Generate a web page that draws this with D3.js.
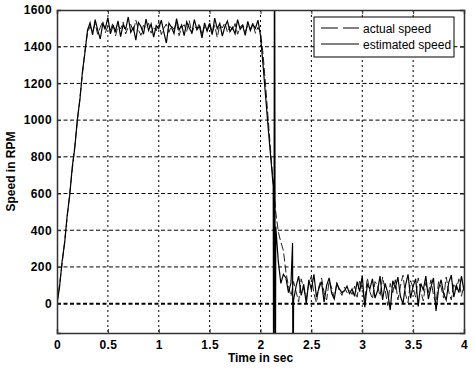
<!DOCTYPE html>
<html>
<head>
<meta charset="utf-8">
<script src="https://cdn.jsdelivr.net/npm/d3@7"></script>
<style>
  body { margin: 0; background: #fff; }
  svg { display: block; font-family: "Liberation Sans", Arial, sans-serif; }
  .tick-label { font-size: 12px; font-weight: bold; fill: #000; letter-spacing: 0.4px; }
  .axis-title { font-size: 12px; font-weight: bold; fill: #000; }
  .legend-text { font-size: 12px; fill: #000; }
</style>
</head>
<body>
<div id="chart"></div>
<script>
// sample times (s), shared by both series
const timeSec = [
  0, 0.025, 0.05, 0.075, 0.1, 0.125, 0.15, 0.175, 0.2, 0.225, 0.25, 0.275, 0.3,
  0.325, 0.35, 0.375, 0.4, 0.425, 0.45, 0.475, 0.5, 0.525, 0.55,
  0.575, 0.6, 0.625, 0.65, 0.675, 0.7, 0.725, 0.75, 0.775, 0.8,
  0.825, 0.85, 0.875, 0.9, 0.925, 0.95, 0.975, 1.0, 1.025, 1.05,
  1.075, 1.1, 1.125, 1.15, 1.175, 1.2, 1.225, 1.25, 1.275, 1.3,
  1.325, 1.35, 1.375, 1.4, 1.425, 1.45, 1.475, 1.5, 1.525, 1.55,
  1.575, 1.6, 1.625, 1.65, 1.675, 1.7, 1.725, 1.75, 1.775, 1.8,
  1.825, 1.85, 1.875, 1.9, 1.925, 1.95, 1.975, 2.0,
  2.025, 2.05, 2.075, 2.1, 2.125, 2.15, 2.175, 2.2, 2.225,
  2.25, 2.275, 2.3, 2.325, 2.35, 2.375, 2.4, 2.425, 2.45, 2.475,
  2.5, 2.525, 2.55, 2.575, 2.6, 2.625, 2.65, 2.675, 2.7, 2.725,
  2.75, 2.775, 2.8, 2.825, 2.85, 2.875, 2.9, 2.925, 2.95, 2.975,
  3.0, 3.025, 3.05, 3.075, 3.1, 3.125, 3.15, 3.175, 3.2, 3.225,
  3.25, 3.275, 3.3, 3.325, 3.35, 3.375, 3.4, 3.425, 3.45, 3.475,
  3.5, 3.525, 3.55, 3.575, 3.6, 3.625, 3.65, 3.675, 3.7, 3.725,
  3.75, 3.775, 3.8, 3.825, 3.85, 3.875, 3.9, 3.925, 3.95, 3.975, 4.0
];

// actual speed (RPM), dashed
const actualSpeed = [
  0, 105, 215, 340, 470, 600, 730, 860, 990, 1120, 1250, 1380, 1475,
  1510, 1482, 1525, 1468, 1505, 1540, 1476, 1512, 1490, 1530,
  1458, 1515, 1497, 1535, 1470, 1508, 1522, 1480, 1545, 1492,
  1462, 1518, 1503, 1528, 1474, 1510, 1486, 1538, 1466, 1500,
  1524, 1478, 1514, 1494, 1532, 1460, 1506, 1520, 1484, 1542,
  1472, 1512, 1498, 1527, 1464, 1509, 1488, 1536, 1476, 1516,
  1450, 1520, 1502, 1531, 1479, 1511, 1490, 1526, 1468, 1507,
  1521, 1482, 1515, 1496, 1529, 1473, 1505, 1480,
  1360, 1190, 1010, 830, 660, 500, 390, 335, 290,
  170, 95, 40, 120, 65, 10, 135, 80, 25, 110,
  150, 55, 5, 95, 140, 60, 20, 125, 85, 30,
  115, 70, 45, 90, 60, 75, 50, 95, 35, 130,
  80, 15, 140, 65, 25, 120, 100, 40, 145, 75,
  -10, 110, 60, 130, 20, 95, 155, 50, 5, 125,
  85, 35, 140, 70, 15, 115, 60, 130, 45, 0,
  120, 90, 30, 145, 65, 20, 110, 75, 135, 40, 100
];

// estimated speed (RPM), solid
const estimatedSpeed = [
  0, 90, 230, 330, 480, 590, 745, 850, 1005, 1110, 1265, 1370, 1490,
  1530, 1465, 1548, 1490, 1442, 1525, 1500, 1558, 1470, 1515,
  1485, 1540, 1455, 1520, 1495, 1562, 1478, 1505, 1436, 1532,
  1510, 1468, 1550, 1488, 1524, 1452, 1515, 1498, 1545, 1480,
  1420, 1528, 1506, 1472, 1553, 1490, 1518, 1460, 1535, 1502,
  1476, 1547, 1492, 1512, 1448, 1530, 1485, 1520, 1466, 1556,
  1498, 1527, 1458, 1510, 1540, 1482, 1505, 1470, 1548, 1495,
  1515, 1462, 1538, 1488, 1522, 1500, 1545, 1460,
  1300, 1130, 960, 800, 640, 420, 230, 110, 160,
  140, 60, 115, 20, 95, 150, 45, 105, 0, 130,
  75, 160, 35, 85, 120, 10, 100, 140, 55, 25,
  110, 80, 60, 70, 95, 55, 80, 40, 120, 65,
  150, -20, 105, 80, 135, 30, 70, 150, 20, 110,
  60, -35, 125, 85, 145, 40, 0, 100, 160, 30,
  95, 135, -15, 110, 75, 150, 25, 90, 140, -40,
  80, 130, 55, 20, 115, 155, 35, 100, 60, 150, 70
];

// glitch samples of the estimator (go off the axes)
const spikeTime = [2.13, 2.138, 2.146, 2.315, 2.32];
const spikeSpeed = [-900, 2400, -700, 330, -700];

const xTicks = [0, 0.5, 1, 1.5, 2, 2.5, 3, 3.5, 4];
const yTicks = [0, 200, 400, 600, 800, 1000, 1200, 1400, 1600];

class SpeedChart {
  constructor(_config) {
    this.config = {
      parentElement: _config.parentElement,
      width: 474,
      height: 375,
      margin: { top: 10, right: 10, bottom: 42, left: 57 }
    };
    this.initVis();
  }

  initVis() {
    let vis = this;
    const m = vis.config.margin;
    vis.w = vis.config.width - m.left - m.right;
    vis.h = vis.config.height - m.top - m.bottom;

    vis.svg = d3.select(vis.config.parentElement).append('svg')
      .attr('width', vis.config.width)
      .attr('height', vis.config.height);

    vis.g = vis.svg.append('g').attr('transform', `translate(${m.left},${m.top})`);

    vis.x = d3.scaleLinear().domain([0, 4]).range([0, vis.w]);
    vis.y = d3.scaleLinear().domain([-160, 1600]).range([vis.h, 0]);

    vis.g.append('clipPath').attr('id', 'plot-clip')
      .append('rect').attr('width', vis.w).attr('height', vis.h);

    // grid
    vis.g.selectAll('.vgrid').data(xTicks.slice(1, -1)).join('line')
      .attr('x1', d => vis.x(d)).attr('x2', d => vis.x(d))
      .attr('y1', 0).attr('y2', vis.h)
      .attr('stroke', '#000').attr('stroke-width', 1)
      .attr('stroke-dasharray', '2,3');
    vis.g.selectAll('.hgrid').data(yTicks.slice(0, -1)).join('line')
      .attr('x1', 0).attr('x2', vis.w)
      .attr('y1', d => vis.y(d)).attr('y2', d => vis.y(d))
      .attr('stroke', '#000')
      .attr('stroke-width', d => d === 0 ? 2 : 1)
      .attr('stroke-dasharray', '4,2.5');

    // series
    vis.line = d3.line().x(d => vis.x(d.t)).y(d => vis.y(d.v));
    vis.actual = timeSec.map((t, i) => ({ t: t, v: actualSpeed[i] }));
    vis.estimated = timeSec.map((t, i) => ({ t: t, v: estimatedSpeed[i] }))
      .concat(spikeTime.map((t, i) => ({ t: t, v: spikeSpeed[i] })))
      .sort((a, b) => a.t - b.t);

    const plot = vis.g.append('g').attr('clip-path', 'url(#plot-clip)');
    plot.append('path').datum(vis.actual)
      .attr('d', vis.line).attr('fill', 'none')
      .attr('stroke', '#222').attr('stroke-width', 1)
      .attr('stroke-dasharray', '8,3');
    plot.append('path').datum(vis.estimated)
      .attr('d', vis.line).attr('fill', 'none')
      .attr('stroke', '#000').attr('stroke-width', 1.2);

    // axes box with inward ticks
    const xAxis = d3.axisBottom(vis.x).tickValues(xTicks).tickSize(-4).tickFormat(d3.format('~g'));
    const yAxis = d3.axisLeft(vis.y).tickValues(yTicks).tickSize(-4).tickFormat(d3.format('d'));
    const xa = vis.g.append('g').attr('transform', `translate(0,${vis.h})`).call(xAxis);
    const ya = vis.g.append('g').call(yAxis);
    vis.g.append('g').call(d3.axisTop(vis.x).tickValues(xTicks).tickSize(-4).tickFormat(''));
    vis.g.append('g').attr('transform', `translate(${vis.w},0)`)
      .call(d3.axisRight(vis.y).tickValues(yTicks).tickSize(-4).tickFormat(''));
    vis.g.selectAll('.domain').attr('stroke', '#333').attr('stroke-width', 1.5);
    vis.g.selectAll('.tick line').attr('stroke', '#333');

    xa.selectAll('text').attr('class', 'tick-label').attr('dy', '1.1em');
    ya.selectAll('text').attr('class', 'tick-label').attr('x', -5);

    // titles
    vis.svg.append('text').attr('class', 'axis-title')
      .attr('x', m.left + vis.x(2)).attr('y', 362)
      .attr('text-anchor', 'middle').text('Time in sec');
    vis.svg.append('text').attr('class', 'axis-title')
      .attr('transform', `translate(15,${m.top + vis.h / 2}) rotate(-90)`)
      .attr('text-anchor', 'middle').text('Speed in RPM');

    // legend
    const lg = vis.svg.append('g').attr('transform', 'translate(314,17)');
    lg.append('rect').attr('width', 140).attr('height', 40)
      .attr('fill', '#fff').attr('stroke', '#000').attr('stroke-width', 1);
    const items = [
      { label: 'actual speed', dash: '17,5' },
      { label: 'estimated speed', dash: null }
    ];
    items.forEach((d, i) => {
      lg.append('line').attr('x1', 7).attr('x2', 45)
        .attr('y1', 11 + i * 16).attr('y2', 11 + i * 16)
        .attr('stroke', '#000').attr('stroke-width', 1)
        .attr('stroke-dasharray', d.dash);
      lg.append('text').attr('class', 'legend-text')
        .attr('x', 49).attr('y', 15.5 + i * 16).text(d.label);
    });
  }
}

new SpeedChart({ parentElement: '#chart' });
</script>
</body>
</html>
